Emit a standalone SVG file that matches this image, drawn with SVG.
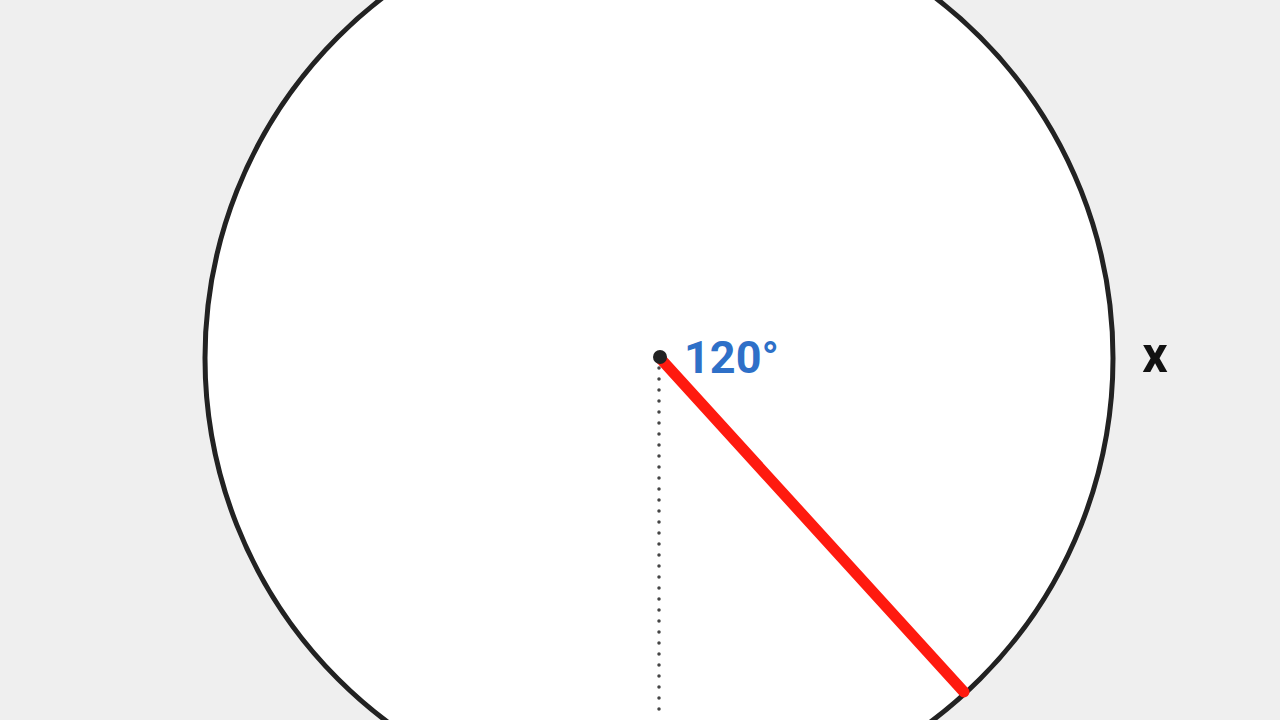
<svg xmlns="http://www.w3.org/2000/svg" width="1280" height="720" viewBox="0 0 1280 720">
  <style>
    .lbl { font-family: Roboto, "Liberation Sans", sans-serif; font-weight: bold; }
  </style>
  <rect x="0" y="0" width="1280" height="720" fill="#efefef"/>
  <g id="circle">
    <circle cx="659" cy="358" r="454" fill="#ffffff" stroke="#222222" stroke-width="5"/>
  </g>
  <g id="connectors">
    <line x1="659" y1="368" x2="659" y2="716" stroke="#444444" stroke-width="3.5" stroke-linecap="round" stroke-dasharray="0 11"/>
    <line x1="660" y1="358" x2="964" y2="692" stroke="#ff1a0f" stroke-width="11" stroke-linecap="round"/>
  </g>
  <g id="center">
    <circle cx="660" cy="357" r="7" fill="#222222"/>
  </g>
  <g id="angle-label">
    <text class="lbl" x="684" y="373" font-size="45" font-weight="600" fill="#2e70c8">120°</text>
  </g>
  <g id="x-label">
    <text class="lbl" x="1155" y="372" font-size="50" fill="#111111" text-anchor="middle">x</text>
  </g>
</svg>
